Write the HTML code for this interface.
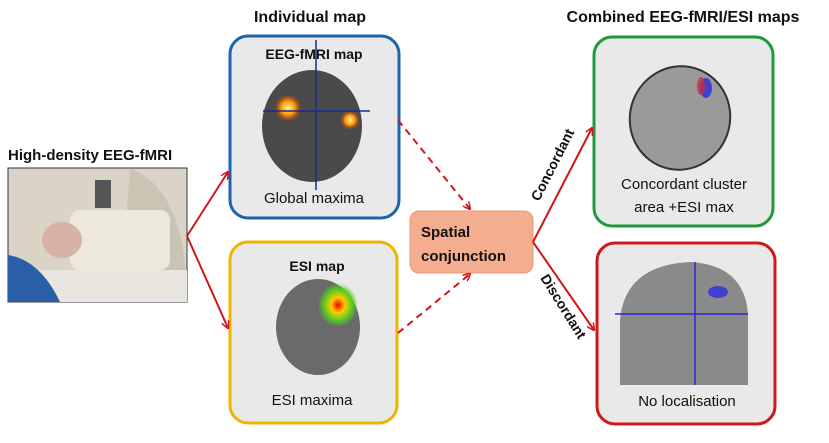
<!DOCTYPE html>
<html><head><style>
body{margin:0;background:#fff;width:829px;height:438px;overflow:hidden;font-family:"Liberation Sans",sans-serif}
</style></head><body>
<svg width="829" height="438" viewBox="0 0 829 438" xmlns="http://www.w3.org/2000/svg" font-family="Liberation Sans, sans-serif">
<defs>
<marker id="a" markerWidth="8" markerHeight="8" refX="7" refY="4" orient="auto" markerUnits="userSpaceOnUse"><path d="M0,0 L8,4 L0,8" fill="none" stroke="#d0161c" stroke-width="1.5"/></marker>
<radialGradient id="esi"><stop offset="0" stop-color="#e00"/><stop offset="0.35" stop-color="#fc0"/><stop offset="0.7" stop-color="#5c2"/><stop offset="1" stop-color="#5c2" stop-opacity="0"/></radialGradient>
<radialGradient id="hot"><stop offset="0" stop-color="#fff8a0"/><stop offset="0.5" stop-color="#f90"/><stop offset="1" stop-color="#c30" stop-opacity="0"/></radialGradient>
</defs>
<text x="310" y="22" font-size="16" font-weight="bold" text-anchor="middle" fill="#111">Individual map</text>
<text x="683" y="22" font-size="16" font-weight="bold" text-anchor="middle" fill="#111">Combined EEG-fMRI/ESI maps</text>
<text x="8" y="160" font-size="15" font-weight="bold" fill="#111">High-density EEG-fMRI</text>
<!-- photo -->
<rect x="8" y="168" width="179" height="134" fill="#d9d4c6" stroke="#334" stroke-width="1"/>
<path d="M130,168 Q187,190 187,302 L120,302 Z" fill="#c9c4b4"/>
<rect x="70" y="210" width="100" height="60" rx="10" fill="#ece8dc"/>
<rect x="30" y="270" width="157" height="32" fill="#e8e6de"/>
<path d="M8,255 Q40,260 60,302 L8,302Z" fill="#2a5fa8"/>
<ellipse cx="62" cy="240" rx="20" ry="18" fill="#d8b2a4"/>
<rect x="95" y="180" width="16" height="28" fill="#555"/>
<!-- blue box -->
<rect x="230" y="36" width="169" height="182" rx="18" fill="#e9e9e9" stroke="#1d64b0" stroke-width="3"/>
<text x="314" y="59" font-size="14" font-weight="bold" text-anchor="middle" fill="#111">EEG-fMRI map</text>
<ellipse cx="312" cy="126" rx="50" ry="56" fill="#4a4a4a"/>
<ellipse cx="288" cy="108" rx="14" ry="14" fill="url(#hot)"/>
<ellipse cx="350" cy="120" rx="10" ry="10" fill="url(#hot)"/>
<line x1="263" y1="111" x2="370" y2="111" stroke="#1a2a90" stroke-width="1.5"/>
<line x1="316" y1="40" x2="316" y2="190" stroke="#1a2a90" stroke-width="1.5"/>
<text x="314" y="203" font-size="15" text-anchor="middle" fill="#111">Global maxima</text>
<!-- yellow box -->
<rect x="230" y="242" width="167" height="181" rx="18" fill="#e9e9e9" stroke="#f0b400" stroke-width="3"/>
<text x="317" y="271" font-size="14" font-weight="bold" text-anchor="middle" fill="#111">ESI map</text>
<ellipse cx="318" cy="327" rx="42" ry="48" fill="#6a6a6a"/>
<ellipse cx="338" cy="305" rx="20" ry="22" fill="url(#esi)"/>
<text x="312" y="405" font-size="15" text-anchor="middle" fill="#111">ESI maxima</text>
<!-- conj -->
<rect x="410" y="211" width="123" height="62" rx="9" fill="#f5ad8f" stroke="#e8987a"/>
<text x="421" y="237" font-size="15" font-weight="bold" fill="#111">Spatial</text>
<text x="421" y="261" font-size="15" font-weight="bold" fill="#111">conjunction</text>
<!-- green box -->
<rect x="594" y="37" width="179" height="189" rx="18" fill="#e9e9e9" stroke="#1e9a3a" stroke-width="3"/>
<ellipse cx="680" cy="118" rx="50" ry="52" fill="#9a9a9a" stroke="#333" stroke-width="2" transform="rotate(20 680 118)"/>
<ellipse cx="706" cy="88" rx="6" ry="10" fill="#4040d0"/>
<ellipse cx="701" cy="86" rx="4" ry="9" fill="#c03040" opacity="0.8"/>
<text x="684" y="189" font-size="15" text-anchor="middle" fill="#111">Concordant cluster</text>
<text x="684" y="212" font-size="15" text-anchor="middle" fill="#111">area +ESI max</text>
<!-- red box -->
<rect x="597" y="243" width="178" height="181" rx="18" fill="#e9e9e9" stroke="#d01818" stroke-width="3"/>
<path d="M620,385 L620,320 Q625,265 690,262 Q745,265 748,315 L748,385 Z" fill="#8a8a8a"/>
<ellipse cx="718" cy="292" rx="10" ry="6" fill="#4040d0"/>
<line x1="615" y1="314" x2="748" y2="314" stroke="#2a2ad0" stroke-width="1.5"/>
<line x1="695" y1="262" x2="695" y2="385" stroke="#2a2ad0" stroke-width="1.5"/>
<text x="687" y="406" font-size="15" text-anchor="middle" fill="#111">No localisation</text>
<!-- arrows -->
<g stroke="#d0161c" stroke-width="2" fill="none">
<line x1="187" y1="236" x2="228" y2="172" marker-end="url(#a)"/>
<line x1="187" y1="236" x2="228" y2="328" marker-end="url(#a)"/>
<line x1="398" y1="120" x2="470" y2="209" stroke-dasharray="7,5" marker-end="url(#a)"/>
<line x1="398" y1="333" x2="470" y2="274" stroke-dasharray="7,5" marker-end="url(#a)"/>
<line x1="533" y1="242" x2="592" y2="128" marker-end="url(#a)"/>
<line x1="533" y1="242" x2="594" y2="330" marker-end="url(#a)"/>
</g>
<text font-size="14" font-weight="bold" fill="#111" transform="translate(539,202) rotate(-63)">Concordant</text>
<text font-size="14" font-weight="bold" fill="#111" transform="translate(540,278) rotate(58)">Discordant</text>
</svg>
</body></html>
